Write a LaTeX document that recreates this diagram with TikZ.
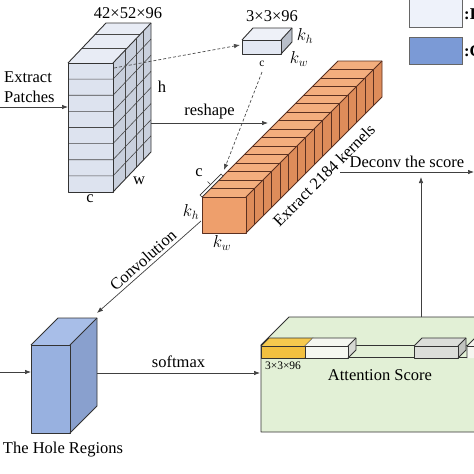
\documentclass[tikz,border=0pt]{standalone}
\usepackage{fontspec}
\setmainfont{Liberation Serif}
\usetikzlibrary{arrows.meta}
\definecolor{pfront}{HTML}{DDE3EF}
\definecolor{ptop}{HTML}{E8ECF5}
\definecolor{pside}{HTML}{C9D0DD}
\definecolor{sfront}{HTML}{E3E8F3}
\definecolor{stop}{HTML}{EEF1F8}
\definecolor{sside}{HTML}{B9BFCA}
\definecolor{ofront}{HTML}{EE9F6C}
\definecolor{otop}{HTML}{F3AE7E}
\definecolor{oside}{HTML}{DE8C5A}
\definecolor{ostroke}{HTML}{5B3020}
\definecolor{hfront}{HTML}{98B1E0}
\definecolor{htop}{HTML}{A8BEE8}
\definecolor{hside}{HTML}{89A0CE}
\definecolor{gfill}{HTML}{E2F0D6}
\definecolor{yfront}{HTML}{F2C040}
\definecolor{ytop}{HTML}{F5C94E}
\definecolor{yside}{HTML}{D6A32A}
\definecolor{wfront}{HTML}{F5F7F0}
\definecolor{wside}{HTML}{D6D8D3}
\definecolor{gyfront}{HTML}{DCDEDA}
\definecolor{gyside}{HTML}{C2C4C0}
\definecolor{lgone}{HTML}{EEF2FA}
\definecolor{lgtwo}{HTML}{7B9AD6}
\definecolor{edgec}{HTML}{333333}
\begin{document}
\begin{tikzpicture}[x=1pt,y=-1pt,
  lbl/.style={font=\fontsize{16.5}{19.5}\selectfont, inner sep=0pt},
  slbl/.style={font=\fontsize{11.5}{13}\selectfont, inner sep=0pt},
  arr/.style={draw=black!75, line width=0.7pt, -{Latex[length=6pt,width=4.5pt]}},
  dsh/.style={draw=black!70, line width=0.7pt, dash pattern=on 3pt off 2pt, -{Latex[length=6pt,width=4.5pt]}},
  edge3d/.style={draw=edgec, line width=0.9pt, line join=round},
  thin3d/.style={draw=edgec!90, line width=0.6pt},
  oedge/.style={draw=ostroke, line width=0.8pt, line join=round}
]
\useasboundingbox (0,0) rectangle (474,474);

% ---------- legend ----------
\draw[draw=black!60, fill=lgone, line width=0.8pt] (409,-2) rectangle (462,27);
\draw[draw=black!60, fill=lgtwo, line width=0.8pt] (409,37) rectangle (462,64);
\node[lbl, anchor=west, font=\fontsize{16.5}{19.5}\selectfont\bfseries] (lgA) at (464,14) {:I};
\node[lbl, anchor=west, font=\fontsize{16.5}{19.5}\selectfont\bfseries] (lgB) at (464,51) {:C};

% ---------- patch block ----------
\fill[pfront] (68,63) rectangle (113,192);
\fill[ptop] (68,63)--(106,23)--(151,23)--(113,63)--cycle;
\fill[pside] (113,63)--(151,23)--(151,152)--(113,192)--cycle;
\foreach \k in {1,...,7}{
  \draw[thin3d] (68,{63+\k*16.125}) -- (113,{63+\k*16.125}) -- (151,{23+\k*16.125});
}
\foreach \t in {0.33,0.6,0.8}{
  \draw[thin3d] ({113+38*\t},{63-40*\t}) -- ({113+38*\t},{192-40*\t});
}
\foreach \t in {0.36,0.72}{
  \draw[thin3d] ({68+38*\t},{63-40*\t}) -- ({113+38*\t},{63-40*\t});
}
\draw[edge3d] (68,63) rectangle (113,192);
\draw[edge3d] (68,63)--(106,23)--(151,23)--(151,152)--(113,192);
\draw[edge3d] (113,63)--(151,23);
\coordinate (patchL) at (68,107);
\coordinate (patchR) at (151,123);
\coordinate (patchD) at (114,68);
\coordinate (inP) at (0,107);

\node[lbl] (pdim) at (128,13) {42×52×96};
\node[lbl] (ph) at (162,87) {h};
\node[lbl] (pw) at (139,181) {w};
\node[lbl] (pc) at (90,199) {c};
\node[lbl, align=left, anchor=west] (ep) at (4,87) {Extract\\Patches};

% ---------- small kernel block ----------
\fill[sfront] (242,40) rectangle (281,54);
\fill[stop] (242,40)--(253,28)--(292,28)--(281,40)--cycle;
\fill[sside] (281,40)--(292,28)--(292,42)--(281,54)--cycle;
\draw[edge3d] (242,40) rectangle (281,54);
\draw[edge3d] (242,40)--(253,28)--(292,28)--(292,42)--(281,54);
\draw[edge3d] (281,40)--(292,28);
\coordinate (smallL) at (240,45);
\coordinate (smallB) at (262,72);
\node[lbl] (sdim) at (272,16) {3×3×96};
\node[lbl] (skh) at (305,36) {$k_h$};
\node[lbl] (skw) at (299,59) {$k_w$};
\node[slbl] (sc) at (262,64) {c};

% ---------- orange kernel bar ----------
\fill[otop] (202,197)--(338,61)--(382,61)--(246,197)--cycle;
\fill[oside] (246,197)--(382,61)--(382,97)--(246,233)--cycle;
\fill[ofront] (202,197) rectangle (246,233);
\foreach \k in {1,...,15}{
  \draw[oedge] ({202+8.5*\k},{197-8.5*\k}) -- ({246+8.5*\k},{197-8.5*\k}) -- ({246+8.5*\k},{233-8.5*\k});
}
\draw[oedge] (202,197) rectangle (246,233);
\draw[oedge] (202,197)--(338,61)--(382,61)--(382,97)--(246,233);
\draw[oedge] (246,197)--(382,61);
% c bracket
\draw[draw=edgec, fill=white, line width=0.7pt] (202,197)--(223,176)--(221,174)--(200,195)--cycle;
\draw[draw=edgec, line width=0.7pt] (210.5,184.5)--(207.5,181.5);
\coordinate (barC) at (224,170);
\coordinate (barIn) at (268,123);
\coordinate (barOut) at (340,172);
\coordinate (barConv) at (201,221);
\node[lbl] (bc) at (199,173) {c};
\node[lbl] (bkh) at (191,212) {$k_h$};
\node[lbl] (bkw) at (222,243) {$k_w$};
\node[lbl, rotate=45] (ek) at (324,175) {Extract 2184 kernels};

% ---------- hole regions block ----------
\fill[hfront] (31,345) rectangle (70,433);
\fill[htop] (31,345)--(58,318)--(97,318)--(70,345)--cycle;
\fill[hside] (70,345)--(97,318)--(97,406)--(70,433)--cycle;
\draw[edge3d] (31,345) rectangle (70,433);
\draw[edge3d] (31,345)--(58,318)--(97,318)--(97,406)--(70,433);
\draw[edge3d] (70,345)--(97,318);
\coordinate (holeL) at (31,372);
\coordinate (holeR) at (97,373);
\coordinate (holeT) at (97,313);
\coordinate (inH) at (0,372);
\node[lbl] (hr) at (63,450) {The Hole Regions};

% ---------- attention score box ----------
\fill[gfill] (261,345)--(289,317)--(480,317)--(480,432)--(261,432)--cycle;
\draw[edge3d] (480,317)--(289,317)--(261,345)--(261,432)--(480,432);
\draw[edge3d] (261,345)--(480,345);
\draw[edge3d] (261,357.5)--(480,357.5);
% yellow block
\fill[ytop] (261,346)--(269,338)--(313,338)--(305,346)--cycle;
\fill[yside] (305,346)--(313,338)--(313,350)--(305,358)--cycle;
\fill[yfront] (261,346) rectangle (305,358);
\draw[edge3d] (261,346) rectangle (305,358);
\draw[edge3d] (261,346)--(269,338)--(313,338)--(313,350)--(305,358);
\draw[edge3d] (305,346)--(313,338);
% white block
\fill[wfront] (305,346)--(313,338)--(356,338)--(348,346)--cycle;
\fill[wside] (348,346)--(356,338)--(356,350)--(348,358)--cycle;
\fill[wfront] (305,346) rectangle (348,358);
\draw[edge3d] (305,346) rectangle (348,358);
\draw[edge3d] (313,338)--(356,338)--(356,350)--(348,358);
\draw[edge3d] (348,346)--(356,338);
% gray block
\fill[gyfront] (414,346)--(422,338)--(466,338)--(458,346)--cycle;
\fill[gyside] (458,346)--(466,338)--(466,350)--(458,358)--cycle;
\fill[gyfront] (414,346) rectangle (458,358);
\draw[edge3d] (414,346) rectangle (458,358);
\draw[edge3d] (414,346)--(422,338)--(466,338)--(466,350)--(458,358);
\draw[edge3d] (458,346)--(466,338);
% partial block at right edge
\fill[wfront] (467,346)--(475,338)--(480,338)--(480,358)--(467,358)--cycle;
\draw[edge3d] (480,338)--(475,338)--(467,346)--(467,358);
\draw[edge3d] (467,346)--(480,346);
\coordinate (attL) at (260,373);
\coordinate (attT) at (421,317);
\coordinate (vTop) at (421,177);
\coordinate (outR) at (474,172);
\node[slbl] (adim) at (283,366) {3×3×96};
\node[lbl] (as) at (380,375) {Attention Score};

% ---------- connectors ----------
\draw[arr] (inP) -- (patchL);
\draw[arr] (patchR) -- node[lbl, above=4pt] (rs) {reshape} (barIn);
\draw[dsh] (patchD) -- (smallL);
\draw[dsh] (smallB) -- (barC);
\draw[arr] (barOut) -- node[lbl, above=4pt, pos=0.5] (dc) {Deconv the score} (outR);
\draw[arr] (attT) -- (vTop);
\draw[arr] (barConv) -- node[lbl, sloped, above=3pt] (cv) {Convolution} (holeT);
\draw[arr] (inH) -- (holeL);
\draw[arr] (holeR) -- node[lbl, above=5pt] (sm) {softmax} (attL);
\end{tikzpicture}
\end{document}
